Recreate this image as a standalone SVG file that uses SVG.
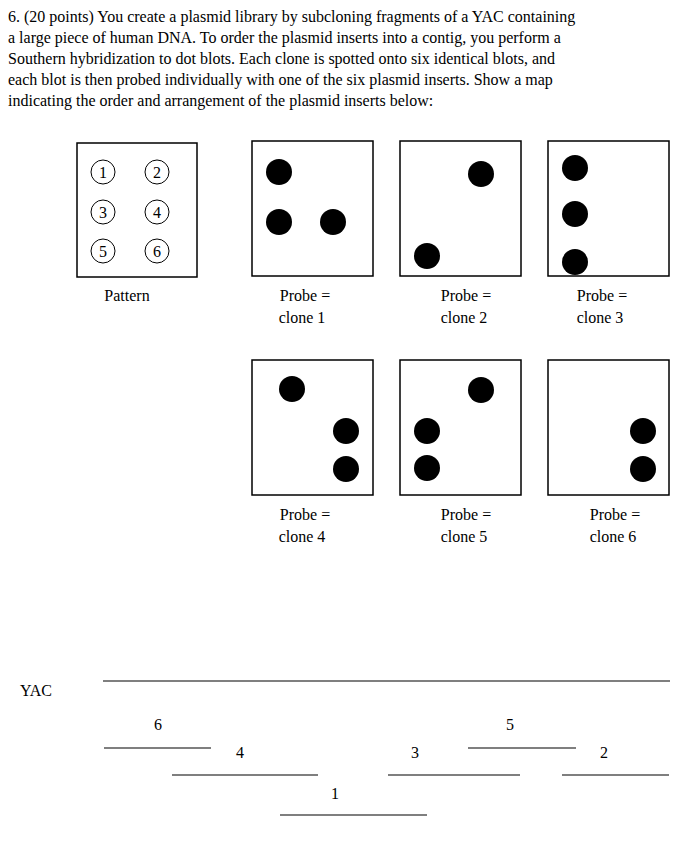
<svg xmlns="http://www.w3.org/2000/svg" width="683" height="855" viewBox="0 0 683 855">
<style>
text{font-family:"Liberation Serif",serif;font-size:16px;fill:#000}
.c{text-anchor:middle}
.box{fill:#fff;stroke:#000;stroke-width:1.5}
.dot{fill:#000}
.pc{fill:none;stroke:#000;stroke-width:1}
.ln{stroke:#000;stroke-width:1.2}
</style>
<rect width="683" height="855" fill="#fff"/>
<g id="question">
<text x="8" y="22">6.  (20 points) You create a plasmid library by subcloning fragments of a YAC containing</text>
<text x="8" y="43">a large piece of human DNA.  To order the plasmid inserts into a contig, you perform a</text>
<text x="8" y="64">Southern hybridization to dot blots.  Each clone is spotted onto six identical blots, and</text>
<text x="8" y="85">each blot is then probed individually with one of the six plasmid inserts.  Show a map</text>
<text x="8" y="106">indicating the order and arrangement of the plasmid inserts below:</text>
</g>
<g id="pattern">
<rect class="box" x="77" y="143" width="120" height="134"/>
<circle class="pc" cx="103" cy="172" r="12"/><text class="c" x="103" y="178" font-size="15">1</text>
<circle class="pc" cx="157" cy="172" r="12"/><text class="c" x="157" y="178" font-size="15">2</text>
<circle class="pc" cx="103" cy="212" r="12"/><text class="c" x="103" y="218" font-size="15">3</text>
<circle class="pc" cx="157" cy="212" r="12"/><text class="c" x="157" y="218" font-size="15">4</text>
<circle class="pc" cx="103" cy="251" r="12"/><text class="c" x="103" y="257" font-size="15">5</text>
<circle class="pc" cx="157" cy="251" r="12"/><text class="c" x="157" y="257" font-size="15">6</text>
<text class="c" x="127" y="301">Pattern</text>
</g>
<g id="clone1">
<rect class="box" x="252" y="141" width="121" height="135"/>
<circle class="dot" cx="279" cy="172" r="13"/><circle class="dot" cx="279" cy="222" r="13"/><circle class="dot" cx="333" cy="222" r="13"/>
<text class="c" x="305" y="301">Probe =</text><text class="c" x="302" y="323">clone 1</text>
</g>
<g id="clone2">
<rect class="box" x="400" y="141" width="121" height="135"/>
<circle class="dot" cx="481" cy="174" r="13"/><circle class="dot" cx="427" cy="256" r="13"/>
<text class="c" x="466" y="301">Probe =</text><text class="c" x="464" y="323">clone 2</text>
</g>
<g id="clone3">
<rect class="box" x="548" y="141" width="121" height="135"/>
<circle class="dot" cx="575" cy="168" r="13"/><circle class="dot" cx="575" cy="214" r="13"/><circle class="dot" cx="575" cy="262" r="13"/>
<text class="c" x="602" y="301">Probe =</text><text class="c" x="600" y="323">clone 3</text>
</g>
<g id="clone4">
<rect class="box" x="252" y="360" width="121" height="135"/>
<circle class="dot" cx="292" cy="389" r="13"/><circle class="dot" cx="346" cy="431" r="13"/><circle class="dot" cx="346" cy="469" r="13"/>
<text class="c" x="305" y="520">Probe =</text><text class="c" x="302" y="542">clone 4</text>
</g>
<g id="clone5">
<rect class="box" x="400" y="360" width="121" height="135"/>
<circle class="dot" cx="481" cy="390" r="13"/><circle class="dot" cx="427" cy="431" r="13"/><circle class="dot" cx="427" cy="468" r="13"/>
<text class="c" x="466" y="520">Probe =</text><text class="c" x="464" y="542">clone 5</text>
</g>
<g id="clone6">
<rect class="box" x="548" y="360" width="121" height="135"/>
<circle class="dot" cx="643" cy="431" r="13"/><circle class="dot" cx="643" cy="469" r="13"/>
<text class="c" x="615" y="520">Probe =</text><text class="c" x="613" y="542">clone 6</text>
</g>
<g id="map">
<text x="20" y="696">YAC</text>
<line class="ln" x1="103" y1="681" x2="670" y2="681"/>
<line class="ln" x1="104" y1="748" x2="211" y2="748"/><text class="c" x="158" y="730">6</text>
<line class="ln" x1="172" y1="775" x2="318" y2="775"/><text class="c" x="240" y="758">4</text>
<line class="ln" x1="388" y1="775" x2="520" y2="775"/><text class="c" x="415" y="758">3</text>
<line class="ln" x1="468" y1="748" x2="576" y2="748"/><text class="c" x="510" y="730">5</text>
<line class="ln" x1="562" y1="775" x2="669" y2="775"/><text class="c" x="604" y="758">2</text>
<line class="ln" x1="280" y1="815" x2="427" y2="815"/><text class="c" x="335" y="799">1</text>
</g>
</svg>
